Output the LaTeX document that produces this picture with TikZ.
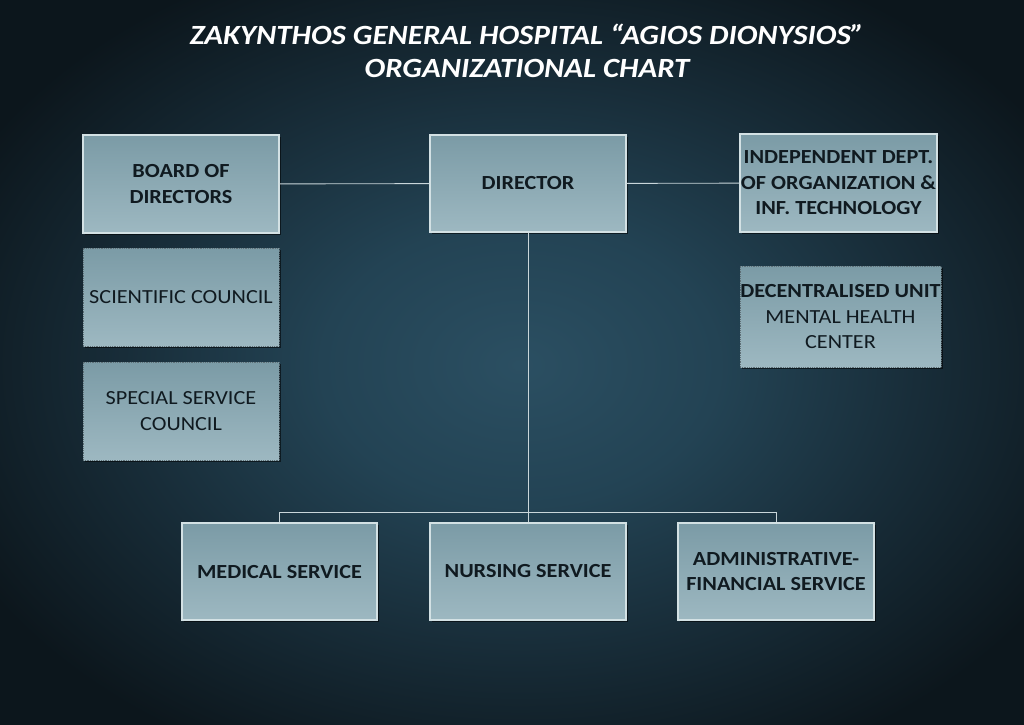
\documentclass[tikz,border=0pt]{standalone}
\usepackage{fontspec}
\setmainfont{Carlito}[FakeStretch=1.11]
\usetikzlibrary{shadows}
\definecolor{bgcenter}{HTML}{2B4F62}
\definecolor{bginner}{HTML}{234354}
\definecolor{bgmid}{HTML}{182D39}
\definecolor{bgedge}{HTML}{0C161C}
\definecolor{boxtop}{HTML}{7B9BA6}
\definecolor{boxbot}{HTML}{9DB8C1}
\definecolor{boxline}{HTML}{D3E1E4}
\definecolor{dotline}{HTML}{5E6F76}
\definecolor{txt}{HTML}{101A20}
\definecolor{conn}{HTML}{C9D6DA}
\pgfdeclareradialshading{bgshade}{\pgfpoint{0bp}{0bp}}{color(0bp)=(bgcenter); color(6.4bp)=(bginner); color(12.8bp)=(bgmid); color(20bp)=(bgedge); color(50bp)=(bgedge)}
\tikzset{
  orgbox/.style={rectangle, inner sep=0pt, align=center, text=txt,
    top color=boxtop, bottom color=boxbot, draw=boxline, line width=1.3pt,
    font=\fontsize{20}{25.5}\selectfont,
    drop shadow={shadow xshift=2pt, shadow yshift=-2pt, opacity=0.55, fill=black}},
  solidbox/.style={orgbox, font=\fontsize{20}{25.5}\selectfont\bfseries},
  dotbox/.style={orgbox, draw=dotline, line width=0.8pt, densely dotted},
  conline/.style={draw=conn, line width=0.9pt},
}
\begin{document}
\begin{tikzpicture}[x=1pt,y=-1pt]
\useasboundingbox (0,0) rectangle (1024,724);
\begin{scope}
  \clip (0,0) rectangle (1024,724);
  \fill[bgedge] (0,0) rectangle (1024,724);
  \shade[shading=bgshade] (520,365) ellipse [x radius=775, y radius=550];
\end{scope}
\node[text=white, align=center, font=\fontsize{27.8}{33}\selectfont\bfseries\itshape] (title) at (527,51)
  {ZAKYNTHOS GENERAL HOSPITAL “AGIOS DIONYSIOS”\\ORGANIZATIONAL CHART};

\node[solidbox, minimum width=196pt, minimum height=98pt] (board) at (181,184) {BOARD OF\\DIRECTORS};
\node[solidbox, minimum width=196pt, minimum height=97pt] (dir) at (528,183.5) {DIRECTOR};
\node[solidbox, minimum width=197pt, minimum height=98pt] (indep) at (838.5,183) {INDEPENDENT DEPT.\\OF ORGANIZATION \&\\INF. TECHNOLOGY};
\node[dotbox, minimum width=196pt, minimum height=98pt] (sci) at (181,297) {SCIENTIFIC COUNCIL};
\node[dotbox, minimum width=196pt, minimum height=98pt] (spec) at (181,411) {SPECIAL SERVICE\\COUNCIL};
\node[dotbox, minimum width=201pt, minimum height=101pt] (dec) at (840.5,316.5) {\textbf{DECENTRALISED UNIT}\\MENTAL HEALTH\\CENTER};
\node[solidbox, minimum width=195pt, minimum height=97pt] (med) at (279.5,571.5) {MEDICAL SERVICE};
\node[solidbox, minimum width=196pt, minimum height=97pt] (nur) at (528,571.5) {NURSING SERVICE};
\node[solidbox, minimum width=196pt, minimum height=97pt] (adm) at (776,571.5) {ADMINISTRATIVE-\\FINANCIAL SERVICE};

\coordinate (bus) at (528,512);
\draw[conline] (board) -- (dir);
\draw[conline] (dir) -- (indep);
\draw[conline] (dir) -- (bus);
\draw[conline] (med.north) |- (bus) -| (adm.north);
\draw[conline] (bus) -- (nur.north);
\end{tikzpicture}
\end{document}
